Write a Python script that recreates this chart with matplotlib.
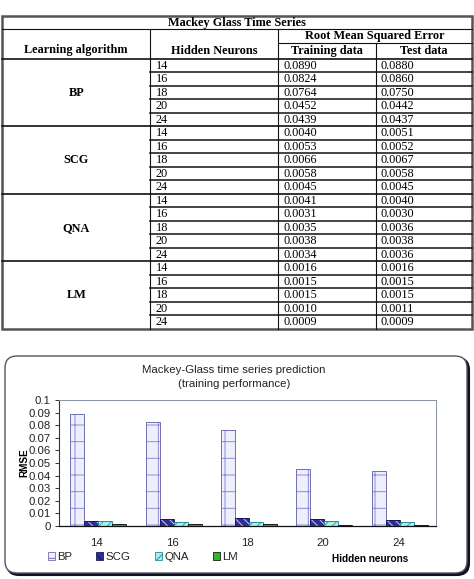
import numpy as np
import matplotlib
matplotlib.use("Agg")
import matplotlib.pyplot as plt
from matplotlib.patches import FancyBboxPatch, Rectangle, Patch

# ---------------- data ----------------
table_title = "Mackey Glass Time Series"
algorithms = ["BP", "SCG", "QNA", "LM"]
neurons = [14, 16, 18, 20, 24]
bp_train = [0.0890, 0.0824, 0.0764, 0.0452, 0.0439]
bp_test = [0.0880, 0.0860, 0.0750, 0.0442, 0.0437]
scg_train = [0.0040, 0.0053, 0.0066, 0.0058, 0.0045]
scg_test = [0.0051, 0.0052, 0.0067, 0.0058, 0.0045]
qna_train = [0.0041, 0.0031, 0.0035, 0.0038, 0.0034]
qna_test = [0.0040, 0.0030, 0.0036, 0.0038, 0.0036]
lm_train = [0.0016, 0.0015, 0.0015, 0.0010, 0.0009]
lm_test = [0.0016, 0.0015, 0.0015, 0.0011, 0.0009]
train_sets = [bp_train, scg_train, qna_train, lm_train]
test_sets = [bp_test, scg_test, qna_test, lm_test]
yticks = np.arange(0, 0.1001, 0.01)

W, H = 474, 579
fig = plt.figure(figsize=(W / 100, H / 100), dpi=100)
fig.patch.set_facecolor("white")

bg = fig.add_axes([0, 0, 1, 1], zorder=0)
bg.set_xlim(0, W)
bg.set_ylim(H, 0)
bg.axis("off")

serif = "Liberation Serif"
sans = "Liberation Sans"

# ---------------- table ----------------
x0, x1, x2, x3, x4 = 2, 150.5, 278, 376, 472
y_top, y_t, y_r, y_h = 16, 29.3, 42.7, 58.5
rh = 13.5
n_rows = len(algorithms) * len(neurons)
y_bot = y_h + n_rows * rh
lc = "#111111"
lw = 0.8

bg.plot([x0, x4], [y_t, y_t], color=lc, lw=lw)
bg.plot([x2, x4], [y_r, y_r], color=lc, lw=lw)
bg.plot([x0, x4], [y_h, y_h], color=lc, lw=1.2)
for v in (x1, x2):
    bg.plot([v, v], [y_t, y_bot], color=lc, lw=lw)
bg.plot([x3, x3], [y_r, y_bot], color=lc, lw=lw)
for i in range(1, n_rows):
    y = y_h + i * rh
    if i % len(neurons) == 0:
        bg.plot([x0, x4], [y, y], color=lc, lw=1.2)
    else:
        bg.plot([x1, x4], [y, y], color=lc, lw=1.1)
bg.add_patch(Rectangle((x0, y_top), x4 - x0, y_bot - y_top, fill=False,
                       edgecolor="#555555", lw=1.8))

fs_h = 8.8
fs_d = 8.8
bg.text((x0 + x4) / 2, (y_top + y_t) / 2 + 0.5, table_title, ha="center", va="center",
        family=serif, weight="bold", fontsize=fs_h)
bg.text((x2 + x4) / 2, (y_t + y_r) / 2 + 0.5, "Root Mean Squared Error", ha="center",
        va="center", family=serif, weight="bold", fontsize=fs_h)
bg.text((x0 + x1) / 2, 50.5, "Learning algorithm", ha="center", va="center",
        family=serif, weight="bold", fontsize=fs_h)
bg.text((x1 + x2) / 2, 50.5, "Hidden Neurons", ha="center", va="center",
        family=serif, weight="bold", fontsize=fs_h)
bg.text((x2 + x3) / 2, (y_r + y_h) / 2 + 0.5, "Training data", ha="center", va="center",
        family=serif, weight="bold", fontsize=fs_h)
bg.text((x3 + x4) / 2, (y_r + y_h) / 2 + 0.5, "Test data", ha="center", va="center",
        family=serif, weight="bold", fontsize=fs_h)

for g, alg in enumerate(algorithms):
    gy = y_h + g * len(neurons) * rh
    bg.text((x0 + x1) / 2, gy + len(neurons) * rh / 2 + 0.5, alg, ha="center",
            va="center", family=serif, weight="bold", fontsize=fs_h)
    for r, n in enumerate(neurons):
        cy = gy + (r + 0.5) * rh + 0.6
        bg.text(x1 + 5, cy, str(n), ha="left", va="center", family=serif, fontsize=fs_d)
        bg.text(x2 + 6, cy, f"{train_sets[g][r]:.4f}", ha="left", va="center",
                family=serif, fontsize=fs_d)
        bg.text(x3 + 5, cy, f"{test_sets[g][r]:.4f}", ha="left", va="center",
                family=serif, fontsize=fs_d)

# ---------------- chart box ----------------
bx0, by0, bx1, by1 = 5, 356, 467, 573
shadow = FancyBboxPatch((bx0 + 2, by0 + 2), bx1 - bx0, by1 - by0,
                        boxstyle="round,pad=0,rounding_size=12",
                        facecolor="#111122", edgecolor="#111122", lw=1.5)
box = FancyBboxPatch((bx0, by0), bx1 - bx0, by1 - by0,
                     boxstyle="round,pad=0,rounding_size=12",
                     facecolor="white", edgecolor="#555566", lw=1.0)
bg.add_patch(shadow)
bg.add_patch(box)

bg.text(234, 370, "Mackey-Glass time series prediction", ha="center", va="center",
        family=sans, fontsize=8.2, color="#222222")
bg.text(234, 384, "(training performance)", ha="center", va="center",
        family=sans, fontsize=8.2, color="#222222")
bg.text(24, 463, "RMSE", ha="center", va="center", rotation=90, family=sans,
        weight="bold", fontsize=7.2)
bg.text(370, 559, "Hidden neurons", ha="center", va="center", family=sans,
        weight="bold", fontsize=7.2)

# ---------------- bar chart ----------------
pl, pr, pt, pb = 59, 436, 400, 526
ax = fig.add_axes([pl / W, 1 - pb / H, (pr - pl) / W, (pb - pt) / H], zorder=2)
ax.set_facecolor("white")

styles = [
    dict(face="#EEEEFC", hatch="+", hcol="#8C8CD8", edge="#7070B0"),
    dict(face="#2E2E9A", hatch="\\\\\\\\", hcol="#C8C8F0", edge="#1A1A60"),
    dict(face="#A8F0F0", hatch="////", hcol="#2EA8B8", edge="#2A8A9A"),
    dict(face="#2EB82E", hatch="", hcol="#2EB82E", edge="#102010"),
]
plt.rcParams["hatch.linewidth"] = 0.7

x = np.arange(len(neurons))
bw = 0.186
for k, (vals, st) in enumerate(zip(train_sets, styles)):
    pos = x + (k - 1.5) * bw + 0.02
    ax.bar(pos, vals, bw, color=st["face"], hatch=st["hatch"], edgecolor=st["hcol"],
           lw=0, zorder=2)
    ax.bar(pos, vals, bw, fill=False, edgecolor=st["edge"], lw=0.7, zorder=3)

ax.set_xlim(-0.5, len(neurons) - 0.5)
ax.set_ylim(0, 0.1)
ax.set_yticks(yticks)
ax.set_yticklabels(["0" if v == 0 else f"{v:g}" for v in yticks])
ax.set_xticks(x)
ax.set_xticklabels([str(n) for n in neurons])
ax.tick_params(axis="y", direction="out", length=3, width=0.7, pad=3,
               labelsize=8.2, labelcolor="#222222", color="#333333")
ax.tick_params(axis="x", length=0, pad=9, labelsize=8.2, labelcolor="#222222")
for t in ax.get_yticklabels() + ax.get_xticklabels():
    t.set_family(sans)
ax.spines["left"].set_color("#333333")
ax.spines["bottom"].set_color("#111111")
ax.spines["left"].set_linewidth(0.8)
ax.spines["bottom"].set_linewidth(0.9)
ax.spines["top"].set_color("#8890A8")
ax.spines["right"].set_color("#8890A8")
ax.spines["top"].set_linewidth(0.7)
ax.spines["right"].set_linewidth(0.7)

handles = [Patch(facecolor=st["face"], edgecolor=st["edge"], hatch=st["hatch"], lw=0.6)
           for st in styles]
leg = fig.legend(handles, algorithms, loc="center left",
                 bbox_to_anchor=(42 / W, 1 - 557 / H), ncol=4, frameon=False,
                 handlelength=0.6, handleheight=0.6, handletextpad=0.25,
                 columnspacing=2.1, borderpad=0,
                 prop={"family": sans, "size": 8.2})
for t in leg.get_texts():
    t.set_color("#222222")

fig.savefig("out.png", dpi=100, facecolor="white")
